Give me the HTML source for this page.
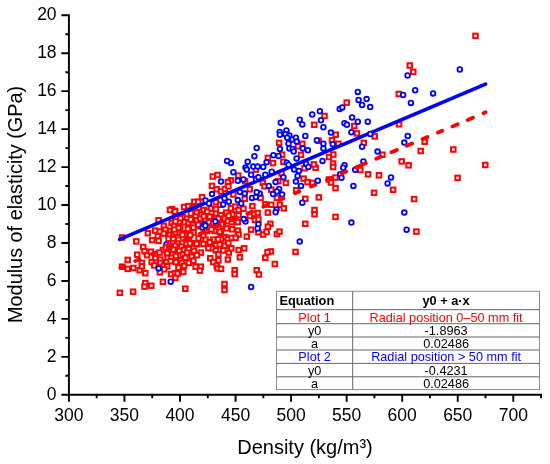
<!DOCTYPE html><html><head><meta charset="utf-8"><style>html,body{margin:0;padding:0;background:#fff;}svg{display:block}text{font-family:"Liberation Sans", Arial, sans-serif;}</style></head><body>
<svg width="550" height="464" viewBox="0 0 550 464">
<g fill="#fff" stroke="#0000ff" stroke-width="1.8"><circle cx="166.4" cy="244.4" r="2.35"/></g>
<g fill="#fff" stroke="#ff0000" stroke-width="2.0"><rect x="473.25" y="33.65" width="4.5" height="4.5"/><rect x="407.55" y="63.25" width="4.5" height="4.5"/><rect x="411.05" y="69.65" width="4.5" height="4.5"/><rect x="396.55" y="91.75" width="4.5" height="4.5"/><rect x="344.45" y="100.35" width="4.5" height="4.5"/><rect x="451.05" y="147.25" width="4.5" height="4.5"/><rect x="483.05" y="162.75" width="4.5" height="4.5"/><rect x="455.35" y="175.65" width="4.5" height="4.5"/><rect x="352.05" y="123.75" width="4.5" height="4.5"/><rect x="354.65" y="131.15" width="4.5" height="4.5"/><rect x="396.85" y="122.05" width="4.5" height="4.5"/><rect x="372.45" y="134.15" width="4.5" height="4.5"/><rect x="361.55" y="140.65" width="4.5" height="4.5"/><rect x="422.45" y="139.45" width="4.5" height="4.5"/><rect x="418.45" y="148.75" width="4.5" height="4.5"/><rect x="380.15" y="152.45" width="4.5" height="4.5"/><rect x="399.45" y="159.15" width="4.5" height="4.5"/><rect x="406.35" y="163.05" width="4.5" height="4.5"/><rect x="358.05" y="167.75" width="4.5" height="4.5"/><rect x="365.85" y="172.05" width="4.5" height="4.5"/><rect x="376.75" y="173.05" width="4.5" height="4.5"/><rect x="276.85" y="140.65" width="4.5" height="4.5"/><rect x="300.05" y="141.55" width="4.5" height="4.5"/><rect x="322.25" y="113.75" width="4.5" height="4.5"/><rect x="312.05" y="122.55" width="4.5" height="4.5"/><rect x="333.45" y="132.45" width="4.5" height="4.5"/><rect x="329.75" y="138.05" width="4.5" height="4.5"/><rect x="316.35" y="138.55" width="4.5" height="4.5"/><rect x="336.15" y="141.55" width="4.5" height="4.5"/><rect x="295.75" y="144.05" width="4.5" height="4.5"/><rect x="298.75" y="152.65" width="4.5" height="4.5"/><rect x="279.85" y="152.45" width="4.5" height="4.5"/><rect x="270.75" y="160.85" width="4.5" height="4.5"/><rect x="281.15" y="159.55" width="4.5" height="4.5"/><rect x="302.25" y="166.05" width="4.5" height="4.5"/><rect x="279.35" y="171.15" width="4.5" height="4.5"/><rect x="301.35" y="176.35" width="4.5" height="4.5"/><rect x="283.65" y="180.65" width="4.5" height="4.5"/><rect x="305.25" y="179.85" width="4.5" height="4.5"/><rect x="275.95" y="178.95" width="4.5" height="4.5"/><rect x="326.75" y="154.85" width="4.5" height="4.5"/><rect x="331.05" y="152.25" width="4.5" height="4.5"/><rect x="313.35" y="165.55" width="4.5" height="4.5"/><rect x="311.65" y="162.15" width="4.5" height="4.5"/><rect x="330.85" y="161.25" width="4.5" height="4.5"/><rect x="330.85" y="164.75" width="4.5" height="4.5"/><rect x="333.15" y="175.35" width="4.5" height="4.5"/><rect x="326.75" y="177.25" width="4.5" height="4.5"/><rect x="328.85" y="180.25" width="4.5" height="4.5"/><rect x="310.35" y="180.65" width="4.5" height="4.5"/><rect x="371.85" y="190.55" width="4.5" height="4.5"/><rect x="390.85" y="187.55" width="4.5" height="4.5"/><rect x="411.85" y="196.85" width="4.5" height="4.5"/><rect x="414.15" y="229.35" width="4.5" height="4.5"/><rect x="269.05" y="187.45" width="4.5" height="4.5"/><rect x="274.65" y="195.65" width="4.5" height="4.5"/><rect x="294.05" y="187.95" width="4.5" height="4.5"/><rect x="303.05" y="196.55" width="4.5" height="4.5"/><rect x="269.05" y="202.55" width="4.5" height="4.5"/><rect x="277.65" y="202.55" width="4.5" height="4.5"/><rect x="281.55" y="206.05" width="4.5" height="4.5"/><rect x="268.15" y="221.55" width="4.5" height="4.5"/><rect x="303.05" y="221.55" width="4.5" height="4.5"/><rect x="316.55" y="195.15" width="4.5" height="4.5"/><rect x="333.25" y="185.85" width="4.5" height="4.5"/><rect x="312.25" y="207.75" width="4.5" height="4.5"/><rect x="312.25" y="212.05" width="4.5" height="4.5"/><rect x="333.25" y="214.65" width="4.5" height="4.5"/><rect x="274.65" y="231.85" width="4.5" height="4.5"/><rect x="277.25" y="229.35" width="4.5" height="4.5"/><rect x="268.65" y="249.15" width="4.5" height="4.5"/><rect x="293.25" y="249.65" width="4.5" height="4.5"/><rect x="272.55" y="261.75" width="4.5" height="4.5"/><rect x="265.65" y="155.65" width="4.5" height="4.5"/><rect x="253.65" y="167.35" width="4.5" height="4.5"/><rect x="235.95" y="173.35" width="4.5" height="4.5"/><rect x="228.65" y="178.05" width="4.5" height="4.5"/><rect x="242.85" y="178.95" width="4.5" height="4.5"/><rect x="260.55" y="180.65" width="4.5" height="4.5"/><rect x="210.55" y="174.25" width="4.5" height="4.5"/><rect x="215.35" y="172.75" width="4.5" height="4.5"/><rect x="225.65" y="179.85" width="4.5" height="4.5"/><rect x="169.75" y="206.85" width="4.5" height="4.5"/><rect x="172.75" y="208.65" width="4.5" height="4.5"/><rect x="181.85" y="204.75" width="4.5" height="4.5"/><rect x="186.15" y="203.85" width="4.5" height="4.5"/><rect x="156.35" y="218.05" width="4.5" height="4.5"/><rect x="180.55" y="214.65" width="4.5" height="4.5"/><rect x="184.85" y="216.35" width="4.5" height="4.5"/><rect x="177.95" y="218.95" width="4.5" height="4.5"/><rect x="182.25" y="219.85" width="4.5" height="4.5"/><rect x="186.15" y="220.65" width="4.5" height="4.5"/><rect x="169.35" y="220.65" width="4.5" height="4.5"/><rect x="209.75" y="183.65" width="4.5" height="4.5"/><rect x="214.45" y="187.05" width="4.5" height="4.5"/><rect x="218.75" y="189.25" width="4.5" height="4.5"/><rect x="222.65" y="186.65" width="4.5" height="4.5"/><rect x="226.15" y="184.05" width="4.5" height="4.5"/><rect x="192.05" y="199.55" width="4.5" height="4.5"/><rect x="195.95" y="199.55" width="4.5" height="4.5"/><rect x="199.85" y="194.85" width="4.5" height="4.5"/><rect x="194.25" y="210.35" width="4.5" height="4.5"/><rect x="198.95" y="212.05" width="4.5" height="4.5"/><rect x="193.35" y="214.25" width="4.5" height="4.5"/><rect x="201.55" y="207.75" width="4.5" height="4.5"/><rect x="208.45" y="206.45" width="4.5" height="4.5"/><rect x="213.65" y="211.15" width="4.5" height="4.5"/><rect x="218.75" y="212.95" width="4.5" height="4.5"/><rect x="223.95" y="210.35" width="4.5" height="4.5"/><rect x="204.95" y="209.45" width="4.5" height="4.5"/><rect x="189.95" y="218.05" width="4.5" height="4.5"/><rect x="194.65" y="218.05" width="4.5" height="4.5"/><rect x="198.05" y="216.35" width="4.5" height="4.5"/><rect x="203.25" y="217.25" width="4.5" height="4.5"/><rect x="206.75" y="219.85" width="4.5" height="4.5"/><rect x="213.65" y="206.85" width="4.5" height="4.5"/><rect x="222.25" y="216.35" width="4.5" height="4.5"/><rect x="225.65" y="218.95" width="4.5" height="4.5"/><rect x="217.95" y="220.65" width="4.5" height="4.5"/><rect x="188.65" y="211.15" width="4.5" height="4.5"/><rect x="209.35" y="215.55" width="4.5" height="4.5"/><rect x="216.15" y="216.35" width="4.5" height="4.5"/><rect x="211.05" y="220.65" width="4.5" height="4.5"/><rect x="190.35" y="206.05" width="4.5" height="4.5"/><rect x="196.35" y="205.15" width="4.5" height="4.5"/><rect x="213.65" y="199.95" width="4.5" height="4.5"/><rect x="217.95" y="202.55" width="4.5" height="4.5"/><rect x="247.55" y="187.05" width="4.5" height="4.5"/><rect x="231.15" y="192.25" width="4.5" height="4.5"/><rect x="242.45" y="196.55" width="4.5" height="4.5"/><rect x="250.15" y="203.85" width="4.5" height="4.5"/><rect x="255.35" y="210.75" width="4.5" height="4.5"/><rect x="251.05" y="211.65" width="4.5" height="4.5"/><rect x="252.75" y="217.65" width="4.5" height="4.5"/><rect x="256.15" y="217.25" width="4.5" height="4.5"/><rect x="265.65" y="210.35" width="4.5" height="4.5"/><rect x="263.05" y="202.15" width="4.5" height="4.5"/><rect x="262.25" y="184.05" width="4.5" height="4.5"/><rect x="228.65" y="206.05" width="4.5" height="4.5"/><rect x="232.95" y="204.35" width="4.5" height="4.5"/><rect x="236.35" y="207.75" width="4.5" height="4.5"/><rect x="241.15" y="206.45" width="4.5" height="4.5"/><rect x="229.95" y="212.05" width="4.5" height="4.5"/><rect x="236.35" y="212.95" width="4.5" height="4.5"/><rect x="232.95" y="217.25" width="4.5" height="4.5"/><rect x="235.55" y="219.85" width="4.5" height="4.5"/><rect x="229.45" y="219.85" width="4.5" height="4.5"/><rect x="247.55" y="213.75" width="4.5" height="4.5"/><rect x="258.35" y="195.65" width="4.5" height="4.5"/><rect x="119.85" y="235.25" width="4.5" height="4.5"/><rect x="145.65" y="230.95" width="4.5" height="4.5"/><rect x="134.05" y="239.15" width="4.5" height="4.5"/><rect x="140.95" y="244.75" width="4.5" height="4.5"/><rect x="142.25" y="249.05" width="4.5" height="4.5"/><rect x="144.85" y="252.95" width="4.5" height="4.5"/><rect x="134.95" y="252.45" width="4.5" height="4.5"/><rect x="125.45" y="257.65" width="4.5" height="4.5"/><rect x="139.65" y="260.65" width="4.5" height="4.5"/><rect x="161.55" y="223.65" width="4.5" height="4.5"/><rect x="171.85" y="223.65" width="4.5" height="4.5"/><rect x="177.95" y="224.45" width="4.5" height="4.5"/><rect x="152.95" y="228.35" width="4.5" height="4.5"/><rect x="157.65" y="229.25" width="4.5" height="4.5"/><rect x="163.25" y="227.45" width="4.5" height="4.5"/><rect x="168.45" y="228.75" width="4.5" height="4.5"/><rect x="176.15" y="225.75" width="4.5" height="4.5"/><rect x="185.65" y="226.65" width="4.5" height="4.5"/><rect x="161.55" y="231.35" width="4.5" height="4.5"/><rect x="167.55" y="232.65" width="4.5" height="4.5"/><rect x="171.05" y="231.35" width="4.5" height="4.5"/><rect x="176.15" y="230.55" width="4.5" height="4.5"/><rect x="180.55" y="230.95" width="4.5" height="4.5"/><rect x="184.85" y="233.55" width="4.5" height="4.5"/><rect x="155.55" y="233.95" width="4.5" height="4.5"/><rect x="149.95" y="237.85" width="4.5" height="4.5"/><rect x="166.25" y="236.55" width="4.5" height="4.5"/><rect x="171.05" y="236.95" width="4.5" height="4.5"/><rect x="176.15" y="237.45" width="4.5" height="4.5"/><rect x="186.55" y="236.55" width="4.5" height="4.5"/><rect x="156.35" y="238.65" width="4.5" height="4.5"/><rect x="170.55" y="240.85" width="4.5" height="4.5"/><rect x="175.35" y="241.25" width="4.5" height="4.5"/><rect x="179.25" y="244.35" width="4.5" height="4.5"/><rect x="184.35" y="241.75" width="4.5" height="4.5"/><rect x="172.75" y="243.45" width="4.5" height="4.5"/><rect x="160.65" y="247.75" width="4.5" height="4.5"/><rect x="165.85" y="247.75" width="4.5" height="4.5"/><rect x="171.05" y="247.35" width="4.5" height="4.5"/><rect x="177.05" y="248.65" width="4.5" height="4.5"/><rect x="181.85" y="247.75" width="4.5" height="4.5"/><rect x="186.55" y="246.85" width="4.5" height="4.5"/><rect x="157.25" y="250.35" width="4.5" height="4.5"/><rect x="164.95" y="251.15" width="4.5" height="4.5"/><rect x="170.15" y="252.05" width="4.5" height="4.5"/><rect x="180.55" y="252.45" width="4.5" height="4.5"/><rect x="184.85" y="250.35" width="4.5" height="4.5"/><rect x="148.65" y="249.45" width="4.5" height="4.5"/><rect x="152.95" y="255.95" width="4.5" height="4.5"/><rect x="158.05" y="257.25" width="4.5" height="4.5"/><rect x="165.45" y="255.55" width="4.5" height="4.5"/><rect x="169.35" y="255.55" width="4.5" height="4.5"/><rect x="173.65" y="253.75" width="4.5" height="4.5"/><rect x="177.95" y="258.05" width="4.5" height="4.5"/><rect x="183.05" y="255.55" width="4.5" height="4.5"/><rect x="149.45" y="259.85" width="4.5" height="4.5"/><rect x="158.05" y="260.65" width="4.5" height="4.5"/><rect x="164.15" y="259.85" width="4.5" height="4.5"/><rect x="168.45" y="258.95" width="4.5" height="4.5"/><rect x="173.65" y="259.85" width="4.5" height="4.5"/><rect x="179.65" y="260.65" width="4.5" height="4.5"/><rect x="186.55" y="260.65" width="4.5" height="4.5"/><rect x="191.15" y="225.35" width="4.5" height="4.5"/><rect x="196.35" y="224.05" width="4.5" height="4.5"/><rect x="204.95" y="228.75" width="4.5" height="4.5"/><rect x="212.35" y="228.75" width="4.5" height="4.5"/><rect x="220.55" y="224.45" width="4.5" height="4.5"/><rect x="224.35" y="226.15" width="4.5" height="4.5"/><rect x="218.75" y="231.35" width="4.5" height="4.5"/><rect x="223.05" y="234.85" width="4.5" height="4.5"/><rect x="201.15" y="233.55" width="4.5" height="4.5"/><rect x="196.35" y="236.15" width="4.5" height="4.5"/><rect x="203.25" y="237.45" width="4.5" height="4.5"/><rect x="211.05" y="237.45" width="4.5" height="4.5"/><rect x="218.75" y="236.95" width="4.5" height="4.5"/><rect x="225.65" y="236.95" width="4.5" height="4.5"/><rect x="189.45" y="240.85" width="4.5" height="4.5"/><rect x="194.25" y="242.15" width="4.5" height="4.5"/><rect x="201.15" y="241.75" width="4.5" height="4.5"/><rect x="207.55" y="239.95" width="4.5" height="4.5"/><rect x="213.65" y="243.05" width="4.5" height="4.5"/><rect x="217.45" y="242.15" width="4.5" height="4.5"/><rect x="222.65" y="243.45" width="4.5" height="4.5"/><rect x="226.15" y="240.85" width="4.5" height="4.5"/><rect x="191.65" y="248.65" width="4.5" height="4.5"/><rect x="198.55" y="250.35" width="4.5" height="4.5"/><rect x="209.75" y="246.05" width="4.5" height="4.5"/><rect x="213.65" y="248.15" width="4.5" height="4.5"/><rect x="220.95" y="248.15" width="4.5" height="4.5"/><rect x="226.55" y="250.35" width="4.5" height="4.5"/><rect x="189.45" y="254.25" width="4.5" height="4.5"/><rect x="194.65" y="252.95" width="4.5" height="4.5"/><rect x="216.15" y="252.05" width="4.5" height="4.5"/><rect x="208.05" y="255.95" width="4.5" height="4.5"/><rect x="211.05" y="259.85" width="4.5" height="4.5"/><rect x="216.15" y="258.05" width="4.5" height="4.5"/><rect x="191.15" y="258.55" width="4.5" height="4.5"/><rect x="225.65" y="257.25" width="4.5" height="4.5"/><rect x="229.95" y="227.05" width="4.5" height="4.5"/><rect x="235.55" y="228.35" width="4.5" height="4.5"/><rect x="236.35" y="232.25" width="4.5" height="4.5"/><rect x="229.45" y="235.65" width="4.5" height="4.5"/><rect x="233.35" y="235.65" width="4.5" height="4.5"/><rect x="248.85" y="227.45" width="4.5" height="4.5"/><rect x="244.55" y="234.35" width="4.5" height="4.5"/><rect x="256.15" y="230.05" width="4.5" height="4.5"/><rect x="260.95" y="232.25" width="4.5" height="4.5"/><rect x="264.35" y="229.65" width="4.5" height="4.5"/><rect x="265.65" y="224.45" width="4.5" height="4.5"/><rect x="229.05" y="246.05" width="4.5" height="4.5"/><rect x="236.35" y="247.75" width="4.5" height="4.5"/><rect x="241.95" y="246.05" width="4.5" height="4.5"/><rect x="237.65" y="255.05" width="4.5" height="4.5"/><rect x="265.25" y="249.95" width="4.5" height="4.5"/><rect x="263.05" y="255.55" width="4.5" height="4.5"/><rect x="119.85" y="264.45" width="4.5" height="4.5"/><rect x="125.45" y="266.65" width="4.5" height="4.5"/><rect x="131.05" y="265.75" width="4.5" height="4.5"/><rect x="137.45" y="267.95" width="4.5" height="4.5"/><rect x="143.05" y="270.95" width="4.5" height="4.5"/><rect x="139.65" y="264.05" width="4.5" height="4.5"/><rect x="143.05" y="280.85" width="4.5" height="4.5"/><rect x="142.25" y="284.35" width="4.5" height="4.5"/><rect x="117.65" y="290.55" width="4.5" height="4.5"/><rect x="130.85" y="289.45" width="4.5" height="4.5"/><rect x="152.05" y="263.15" width="4.5" height="4.5"/><rect x="161.55" y="263.65" width="4.5" height="4.5"/><rect x="164.95" y="264.05" width="4.5" height="4.5"/><rect x="161.95" y="267.05" width="4.5" height="4.5"/><rect x="157.65" y="270.05" width="4.5" height="4.5"/><rect x="168.85" y="271.85" width="4.5" height="4.5"/><rect x="172.75" y="270.95" width="4.5" height="4.5"/><rect x="176.15" y="265.35" width="4.5" height="4.5"/><rect x="181.85" y="263.65" width="4.5" height="4.5"/><rect x="180.95" y="269.65" width="4.5" height="4.5"/><rect x="175.35" y="271.35" width="4.5" height="4.5"/><rect x="173.15" y="275.65" width="4.5" height="4.5"/><rect x="160.65" y="279.55" width="4.5" height="4.5"/><rect x="149.05" y="283.45" width="4.5" height="4.5"/><rect x="183.05" y="286.45" width="4.5" height="4.5"/><rect x="193.35" y="264.45" width="4.5" height="4.5"/><rect x="198.55" y="264.45" width="4.5" height="4.5"/><rect x="197.65" y="268.35" width="4.5" height="4.5"/><rect x="214.45" y="263.65" width="4.5" height="4.5"/><rect x="215.35" y="266.15" width="4.5" height="4.5"/><rect x="218.75" y="266.65" width="4.5" height="4.5"/><rect x="222.25" y="281.75" width="4.5" height="4.5"/><rect x="222.25" y="287.75" width="4.5" height="4.5"/><rect x="232.45" y="267.95" width="4.5" height="4.5"/><rect x="232.45" y="271.85" width="4.5" height="4.5"/><rect x="254.45" y="267.95" width="4.5" height="4.5"/><rect x="256.65" y="272.25" width="4.5" height="4.5"/><rect x="191.35" y="230.25" width="4.5" height="4.5"/><rect x="163.75" y="245.35" width="4.5" height="4.5"/><rect x="167.35" y="243.75" width="4.5" height="4.5"/><rect x="182.65" y="232.45" width="4.5" height="4.5"/><rect x="204.45" y="228.15" width="4.5" height="4.5"/><rect x="217.55" y="229.55" width="4.5" height="4.5"/><rect x="167.75" y="207.75" width="4.5" height="4.5"/><rect x="172.75" y="209.25" width="4.5" height="4.5"/><rect x="188.55" y="217.15" width="4.5" height="4.5"/><rect x="207.55" y="214.35" width="4.5" height="4.5"/><rect x="200.85" y="224.95" width="4.5" height="4.5"/><rect x="173.15" y="230.05" width="4.5" height="4.5"/><rect x="171.95" y="227.35" width="4.5" height="4.5"/><rect x="173.85" y="215.05" width="4.5" height="4.5"/><rect x="194.35" y="241.55" width="4.5" height="4.5"/><rect x="176.95" y="219.75" width="4.5" height="4.5"/><rect x="206.15" y="245.85" width="4.5" height="4.5"/><rect x="203.25" y="226.05" width="4.5" height="4.5"/><rect x="226.35" y="213.45" width="4.5" height="4.5"/><rect x="219.55" y="222.15" width="4.5" height="4.5"/><rect x="178.15" y="215.95" width="4.5" height="4.5"/><rect x="187.65" y="241.15" width="4.5" height="4.5"/><rect x="180.25" y="232.65" width="4.5" height="4.5"/><rect x="206.85" y="225.15" width="4.5" height="4.5"/><rect x="201.55" y="214.05" width="4.5" height="4.5"/><rect x="173.25" y="219.15" width="4.5" height="4.5"/><rect x="209.25" y="227.15" width="4.5" height="4.5"/><rect x="187.95" y="232.85" width="4.5" height="4.5"/><rect x="196.05" y="222.55" width="4.5" height="4.5"/><rect x="215.85" y="236.95" width="4.5" height="4.5"/></g>
<line x1="119.69" y1="239.33" x2="485.52" y2="84.09" stroke="#0000ff" stroke-width="3.7" stroke-linecap="round"/>
<g fill="#fff" stroke="#0000ff" stroke-width="1.8"><circle cx="459.8" cy="69.5" r="2.35"/><circle cx="433.1" cy="93.4" r="2.35"/><circle cx="407.6" cy="75.5" r="2.35"/><circle cx="403.1" cy="95.0" r="2.35"/><circle cx="415.2" cy="90.2" r="2.35"/><circle cx="410.9" cy="102.9" r="2.35"/><circle cx="357.8" cy="91.9" r="2.35"/><circle cx="358.6" cy="100.0" r="2.35"/><circle cx="366.6" cy="99.1" r="2.35"/><circle cx="362.1" cy="105.0" r="2.35"/><circle cx="370.2" cy="107.1" r="2.35"/><circle cx="352.1" cy="117.4" r="2.35"/><circle cx="357.8" cy="121.7" r="2.35"/><circle cx="367.8" cy="121.7" r="2.35"/><circle cx="351.4" cy="132.2" r="2.35"/><circle cx="370.3" cy="134.0" r="2.35"/><circle cx="362.1" cy="146.7" r="2.35"/><circle cx="407.8" cy="136.0" r="2.35"/><circle cx="404.3" cy="142.6" r="2.35"/><circle cx="377.6" cy="151.6" r="2.35"/><circle cx="363.4" cy="161.4" r="2.35"/><circle cx="355.2" cy="169.7" r="2.35"/><circle cx="391.0" cy="177.4" r="2.35"/><circle cx="387.6" cy="183.4" r="2.35"/><circle cx="280.8" cy="122.8" r="2.35"/><circle cx="299.7" cy="119.8" r="2.35"/><circle cx="302.3" cy="124.4" r="2.35"/><circle cx="279.7" cy="131.9" r="2.35"/><circle cx="279.9" cy="134.7" r="2.35"/><circle cx="286.4" cy="130.4" r="2.35"/><circle cx="285.5" cy="134.3" r="2.35"/><circle cx="289.4" cy="135.6" r="2.35"/><circle cx="287.2" cy="137.8" r="2.35"/><circle cx="292.4" cy="139.5" r="2.35"/><circle cx="295.9" cy="137.8" r="2.35"/><circle cx="296.7" cy="141.6" r="2.35"/><circle cx="305.3" cy="136.0" r="2.35"/><circle cx="288.5" cy="143.8" r="2.35"/><circle cx="339.7" cy="108.9" r="2.35"/><circle cx="342.3" cy="107.4" r="2.35"/><circle cx="319.9" cy="111.2" r="2.35"/><circle cx="312.2" cy="114.5" r="2.35"/><circle cx="321.0" cy="120.3" r="2.35"/><circle cx="323.4" cy="127.2" r="2.35"/><circle cx="344.5" cy="123.3" r="2.35"/><circle cx="346.9" cy="124.7" r="2.35"/><circle cx="330.9" cy="132.6" r="2.35"/><circle cx="316.9" cy="140.3" r="2.35"/><circle cx="323.4" cy="143.8" r="2.35"/><circle cx="332.8" cy="144.2" r="2.35"/><circle cx="279.9" cy="148.9" r="2.35"/><circle cx="289.4" cy="148.4" r="2.35"/><circle cx="292.8" cy="148.9" r="2.35"/><circle cx="293.7" cy="151.5" r="2.35"/><circle cx="302.8" cy="148.4" r="2.35"/><circle cx="307.9" cy="150.2" r="2.35"/><circle cx="273.4" cy="155.2" r="2.35"/><circle cx="278.6" cy="156.0" r="2.35"/><circle cx="296.6" cy="158.4" r="2.35"/><circle cx="286.8" cy="162.7" r="2.35"/><circle cx="288.5" cy="164.8" r="2.35"/><circle cx="294.1" cy="169.6" r="2.35"/><circle cx="298.9" cy="170.9" r="2.35"/><circle cx="306.2" cy="164.0" r="2.35"/><circle cx="308.4" cy="167.0" r="2.35"/><circle cx="271.7" cy="171.7" r="2.35"/><circle cx="283.4" cy="177.3" r="2.35"/><circle cx="297.6" cy="176.0" r="2.35"/><circle cx="275.6" cy="182.1" r="2.35"/><circle cx="295.9" cy="181.6" r="2.35"/><circle cx="323.4" cy="148.4" r="2.35"/><circle cx="322.5" cy="160.9" r="2.35"/><circle cx="344.5" cy="165.3" r="2.35"/><circle cx="343.2" cy="167.8" r="2.35"/><circle cx="340.2" cy="174.3" r="2.35"/><circle cx="341.5" cy="177.8" r="2.35"/><circle cx="317.8" cy="180.8" r="2.35"/><circle cx="353.4" cy="185.9" r="2.35"/><circle cx="404.3" cy="212.6" r="2.35"/><circle cx="351.4" cy="222.6" r="2.35"/><circle cx="406.6" cy="229.8" r="2.35"/><circle cx="301.0" cy="185.9" r="2.35"/><circle cx="279.1" cy="188.9" r="2.35"/><circle cx="276.9" cy="191.5" r="2.35"/><circle cx="273.0" cy="194.1" r="2.35"/><circle cx="282.1" cy="194.5" r="2.35"/><circle cx="302.3" cy="202.7" r="2.35"/><circle cx="276.5" cy="209.6" r="2.35"/><circle cx="275.6" cy="212.2" r="2.35"/><circle cx="299.7" cy="241.6" r="2.35"/><circle cx="256.7" cy="148.0" r="2.35"/><circle cx="254.4" cy="156.2" r="2.35"/><circle cx="230.9" cy="163.1" r="2.35"/><circle cx="247.7" cy="161.8" r="2.35"/><circle cx="266.6" cy="162.2" r="2.35"/><circle cx="253.3" cy="166.6" r="2.35"/><circle cx="257.6" cy="166.6" r="2.35"/><circle cx="263.2" cy="167.0" r="2.35"/><circle cx="245.5" cy="167.6" r="2.35"/><circle cx="246.8" cy="169.6" r="2.35"/><circle cx="233.4" cy="172.2" r="2.35"/><circle cx="251.1" cy="174.7" r="2.35"/><circle cx="265.3" cy="174.7" r="2.35"/><circle cx="237.8" cy="180.8" r="2.35"/><circle cx="243.4" cy="179.5" r="2.35"/><circle cx="255.9" cy="179.1" r="2.35"/><circle cx="258.4" cy="177.3" r="2.35"/><circle cx="227.1" cy="160.9" r="2.35"/><circle cx="221.0" cy="181.6" r="2.35"/><circle cx="212.0" cy="194.1" r="2.35"/><circle cx="205.5" cy="200.5" r="2.35"/><circle cx="209.0" cy="203.5" r="2.35"/><circle cx="224.5" cy="198.4" r="2.35"/><circle cx="223.2" cy="204.4" r="2.35"/><circle cx="228.8" cy="201.8" r="2.35"/><circle cx="215.4" cy="221.6" r="2.35"/><circle cx="204.2" cy="224.2" r="2.35"/><circle cx="239.9" cy="191.9" r="2.35"/><circle cx="244.7" cy="193.6" r="2.35"/><circle cx="237.8" cy="200.1" r="2.35"/><circle cx="241.2" cy="203.5" r="2.35"/><circle cx="252.0" cy="197.9" r="2.35"/><circle cx="255.9" cy="197.1" r="2.35"/><circle cx="259.7" cy="193.6" r="2.35"/><circle cx="256.7" cy="192.3" r="2.35"/><circle cx="245.5" cy="221.6" r="2.35"/><circle cx="243.8" cy="219.1" r="2.35"/><circle cx="258.4" cy="224.2" r="2.35"/><circle cx="268.8" cy="185.9" r="2.35"/><circle cx="202.5" cy="227.6" r="2.35"/><circle cx="257.6" cy="228.4" r="2.35"/><circle cx="158.6" cy="268.4" r="2.35"/><circle cx="170.7" cy="281.8" r="2.35"/><circle cx="251.1" cy="287.0" r="2.35"/><circle cx="205.3" cy="225.8" r="2.35"/></g>
<path d="M120.55 267.32L124.15 265.79M135.25 261.08L139.45 259.30M152.00 253.97L156.30 252.14M167.90 247.22L172.20 245.39M183.80 240.47L188.10 238.64M199.70 233.71L204.00 231.89M215.60 226.96L219.90 225.14M231.50 220.21L235.80 218.38M247.40 213.46L251.70 211.63M263.30 206.71L267.60 204.88M279.20 199.96L283.50 198.13M295.10 193.20L299.40 191.38M311.00 186.45L315.30 184.63M326.90 179.70L331.20 177.87M341.65 173.44L346.15 171.53M355.75 167.45L365.85 163.16M376.25 158.74L381.25 156.62M391.45 152.29L396.85 150.00M406.75 145.79L412.15 143.50M422.65 139.04L427.45 137.00M437.95 132.54L442.25 130.72M452.45 126.39L457.75 124.14M467.75 119.89L472.95 117.68M483.55 113.18L485.52 112.34" stroke="#ff0000" stroke-width="3.8" stroke-linecap="round" fill="none"/>
<path d="M61.40 15.26H68.90V394.80H541.08V398.30M61.40 394.80H68.90M65.40 375.82H68.90M61.40 356.85H68.90M65.40 337.87H68.90M61.40 318.89H68.90M65.40 299.92H68.90M61.40 280.94H68.90M65.40 261.96H68.90M61.40 242.98H68.90M65.40 224.01H68.90M61.40 205.03H68.90M65.40 186.05H68.90M61.40 167.08H68.90M65.40 148.10H68.90M61.40 129.12H68.90M65.40 110.14H68.90M61.40 91.17H68.90M65.40 72.19H68.90M61.40 53.21H68.90M65.40 34.24H68.90M68.90 394.80V401.80M96.68 394.80V398.30M124.45 394.80V401.80M152.23 394.80V398.30M180.00 394.80V401.80M207.78 394.80V398.30M235.55 394.80V401.80M263.33 394.80V398.30M291.10 394.80V401.80M318.88 394.80V398.30M346.65 394.80V401.80M374.42 394.80V398.30M402.20 394.80V401.80M429.98 394.80V398.30M457.75 394.80V401.80M485.52 394.80V398.30M513.30 394.80V401.80" fill="none" stroke="#000" stroke-width="1.9"/>
<text x="56.6" y="399.80" font-size="17.5" text-anchor="end">0</text>
<text x="56.6" y="361.85" font-size="17.5" text-anchor="end">2</text>
<text x="56.6" y="323.89" font-size="17.5" text-anchor="end">4</text>
<text x="56.6" y="285.94" font-size="17.5" text-anchor="end">6</text>
<text x="56.6" y="247.98" font-size="17.5" text-anchor="end">8</text>
<text x="56.6" y="210.03" font-size="17.5" text-anchor="end">10</text>
<text x="56.6" y="172.08" font-size="17.5" text-anchor="end">12</text>
<text x="56.6" y="134.12" font-size="17.5" text-anchor="end">14</text>
<text x="56.6" y="96.17" font-size="17.5" text-anchor="end">16</text>
<text x="56.6" y="58.21" font-size="17.5" text-anchor="end">18</text>
<text x="56.6" y="20.26" font-size="17.5" text-anchor="end">20</text>
<text x="68.90" y="421" font-size="17.5" text-anchor="middle">300</text>
<text x="124.45" y="421" font-size="17.5" text-anchor="middle">350</text>
<text x="180.00" y="421" font-size="17.5" text-anchor="middle">400</text>
<text x="235.55" y="421" font-size="17.5" text-anchor="middle">450</text>
<text x="291.10" y="421" font-size="17.5" text-anchor="middle">500</text>
<text x="346.65" y="421" font-size="17.5" text-anchor="middle">550</text>
<text x="402.20" y="421" font-size="17.5" text-anchor="middle">600</text>
<text x="457.75" y="421" font-size="17.5" text-anchor="middle">650</text>
<text x="513.30" y="421" font-size="17.5" text-anchor="middle">700</text>
<text x="305" y="453.5" font-size="20" text-anchor="middle">Density (kg/m³)</text>
<text transform="translate(22.3 204.4) rotate(-90)" x="0" y="0" font-size="19.85" text-anchor="middle">Modulus of elasticity (GPa)</text>
<rect x="276.5" y="291.3" width="263.0" height="98.3" fill="#fff" stroke="#8c8c8c" stroke-width="1"/>
<path d="M276.5 309.7H539.5M276.5 323.7H539.5M276.5 337.0H539.5M276.5 350.0H539.5M276.5 363.4H539.5M276.5 376.8H539.5M352.7 291.3V389.6" stroke="#666" stroke-width="1" fill="none"/>
<text x="279.5" y="305.20" font-size="12.8" font-weight="bold" fill="#000">Equation</text>
<text x="446.10" y="305.20" font-size="12.8" font-weight="bold" fill="#000" text-anchor="middle">y0 + a·x</text>
<text x="314.60" y="321.70" font-size="12.7" fill="#ff0000" text-anchor="middle">Plot 1</text>
<text x="446.10" y="321.70" font-size="12.7" fill="#ff0000" text-anchor="middle">Radial position 0–50 mm fit</text>
<text x="314.60" y="335.00" font-size="12.7" fill="#000" text-anchor="middle">y0</text>
<text x="446.10" y="335.00" font-size="12.7" fill="#000" text-anchor="middle">-1.8963</text>
<text x="314.60" y="348.00" font-size="12.7" fill="#000" text-anchor="middle">a</text>
<text x="446.10" y="348.00" font-size="12.7" fill="#000" text-anchor="middle">0.02486</text>
<text x="314.60" y="361.40" font-size="12.7" fill="#0000ff" text-anchor="middle">Plot 2</text>
<text x="446.10" y="361.40" font-size="12.7" fill="#0000ff" text-anchor="middle">Radial position &gt; 50 mm fit</text>
<text x="314.60" y="374.80" font-size="12.7" fill="#000" text-anchor="middle">y0</text>
<text x="446.10" y="374.80" font-size="12.7" fill="#000" text-anchor="middle">-0.4231</text>
<text x="314.60" y="387.60" font-size="12.7" fill="#000" text-anchor="middle">a</text>
<text x="446.10" y="387.60" font-size="12.7" fill="#000" text-anchor="middle">0.02486</text>
</svg></body></html>
